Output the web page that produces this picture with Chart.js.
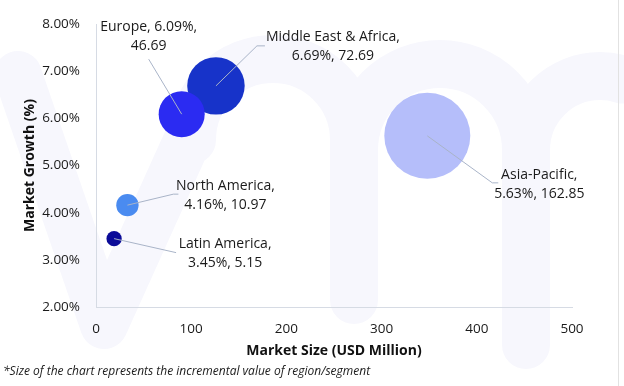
<!DOCTYPE html>
<html lang="en">
<head>
    <meta charset="UTF-8">
    <title>Market Size vs Market Growth</title>
    <script src="https://cdn.jsdelivr.net/npm/chart.js"></script>
    <style>
        body {
            margin: 0;
            background-color: #ffffff;
        }
        #wrap {
            width: 624px;
            height: 386px;
            position: relative;
        }
    </style>
</head>
<body>
    <div id="wrap"><canvas id="bubbleChart"></canvas></div>

    <script>
        // Data
        const regions = ['Middle East & Africa', 'Europe', 'Asia-Pacific', 'North America', 'Latin America'];
        const marketSize = [126, 90, 348, 33, 19];          // USD Million (x)
        const marketGrowth = [6.69, 6.09, 5.63, 4.16, 3.45]; // % (y)
        const incrementalValue = [72.69, 46.69, 162.85, 10.97, 5.15]; // bubble size
        const bubbleColors = ['#1733c9', '#2b2bf2', '#b5befa', '#4a8bf0', '#0b0b98'];

        // How each label is placed relative to its bubble (pixels)
        const labelLayout = [
            { split: 1, dx: 117, dy: -49, lx: 41, ly: -40, hook: 8 },
            { split: 2, dx: -33, dy: -87, lx: -33, ly: -55, hook: 0 },
            { split: 1, dx: 112, dy: 39, lx: 65, ly: 47, hook: 6 },
            { split: 1, dx: 98, dy: -19, lx: 46, ly: -11, hook: 5 },
            { split: 1, dx: 111, dy: 5, lx: 62, ly: 14, hook: 0 }
        ];
        const sizeScale = 3.37;

        const labelFont = '14px "Open Sans", sans-serif';

        // "Name, growth%, value" broken after the first or second comma
        function labelText(i) {
            const parts = [regions[i], marketGrowth[i].toFixed(2) + '%', incrementalValue[i].toFixed(2)];
            const k = labelLayout[i].split;
            return [parts.slice(0, k).join(', ') + ',', parts.slice(k).join(', ')];
        }

        const bubbleLabels = {
            id: 'bubbleLabels',
            beforeDraw(chart) {
                // faint logo watermark behind the plot
                const ctx = chart.ctx;
                ctx.save();
                ctx.strokeStyle = '#f7f7fd';
                ctx.lineWidth = 48;
                ctx.lineJoin = 'round';
                ctx.lineCap = 'round';
                ctx.beginPath();
                ctx.moveTo(18, 75);
                ctx.lineTo(104, 325);
                ctx.lineTo(192, 130);
                ctx.arc(273, 140, 81, Math.PI, 0);
                ctx.lineTo(354, 300);
                ctx.moveTo(354, 150);
                ctx.arc(440, 150, 86, Math.PI, 0);
                ctx.lineTo(526, 345);
                ctx.moveTo(526, 150);
                ctx.arc(600, 150, 74, Math.PI, Math.PI * 1.6);
                ctx.stroke();
                ctx.restore();
            },
            afterDatasetsDraw(chart) {
                const ctx = chart.ctx;
                const meta = chart.getDatasetMeta(0);
                ctx.save();
                meta.data.forEach((pt, i) => {
                    const L = labelLayout[i];
                    // leader line
                    ctx.strokeStyle = '#a9b4c8';
                    ctx.lineWidth = 1;
                    ctx.beginPath();
                    ctx.moveTo(pt.x, pt.y);
                    ctx.lineTo(pt.x + L.lx, pt.y + L.ly);
                    if (L.hook) ctx.lineTo(pt.x + L.lx + L.hook, pt.y + L.ly);
                    ctx.stroke();
                    // text
                    ctx.fillStyle = '#1a1a1a';
                    ctx.font = labelFont;
                    ctx.textAlign = 'center';
                    ctx.textBaseline = 'middle';
                    labelText(i).forEach((t, k) => {
                        ctx.fillText(t, pt.x + L.dx, pt.y + L.dy + k * 19);
                    });
                });
                ctx.restore();
            },
            afterDraw(chart) {
                const ctx = chart.ctx;
                ctx.save();
                ctx.fillStyle = '#1a1a1a';
                ctx.font = 'italic 12px "Open Sans", sans-serif';
                ctx.textAlign = 'left';
                ctx.textBaseline = 'middle';
                ctx.fillText('*Size of the chart represents the incremental value of region/segment', 3, 372);
                // thin frame edge on the right
                ctx.strokeStyle = '#e2e2e2';
                ctx.beginPath();
                ctx.moveTo(618.5, 0);
                ctx.lineTo(618.5, 386);
                ctx.stroke();
                ctx.restore();
            }
        };

        const ctx = document.getElementById('bubbleChart').getContext('2d');
        const chart = new Chart(ctx, {
            type: 'bubble',
            data: {
                datasets: [{
                    label: 'Regions',
                    data: regions.map((r, i) => ({
                        x: marketSize[i],
                        y: marketGrowth[i],
                        r: sizeScale * Math.sqrt(incrementalValue[i])
                    })),
                    backgroundColor: bubbleColors,
                    borderWidth: 0,
                    hoverBorderWidth: 0
                }]
            },
            options: {
                responsive: true,
                maintainAspectRatio: false,
                animation: false,
                layout: {
                    autoPadding: false,
                    padding: { left: 0, right: 52, top: 16, bottom: 23 }
                },
                plugins: {
                    legend: { display: false },
                    tooltip: { enabled: false }
                },
                scales: {
                    x: {
                        type: 'linear',
                        min: 0,
                        max: 500,
                        afterFit: (s) => { s.height = 56; },
                        grid: { display: false, drawTicks: false },
                        border: { color: '#d6dbe4', width: 1 },
                        ticks: {
                            stepSize: 100,
                            padding: 14,
                            color: '#1a1a1a',
                            font: { family: '"Open Sans", sans-serif', size: 13.5 }
                        },
                        title: {
                            display: true,
                            text: 'Market Size (USD Million)',
                            color: '#111111',
                            padding: { top: 0, bottom: 4 },
                            font: { family: '"Open Sans", sans-serif', size: 14, weight: 'bold' }
                        }
                    },
                    y: {
                        min: 2,
                        max: 8,
                        afterFit: (s) => { s.width = 96; },
                        grid: { display: false, drawTicks: false },
                        border: { color: '#d6dbe4', width: 1 },
                        ticks: {
                            stepSize: 1,
                            padding: 16,
                            color: '#1a1a1a',
                            font: { family: '"Open Sans", sans-serif', size: 13.5 },
                            callback: (v) => v.toFixed(2) + '%'
                        },
                        title: {
                            display: true,
                            text: 'Market Growth (%)',
                            color: '#111111',
                            padding: { top: 22, bottom: 0 },
                            font: { family: '"Open Sans", sans-serif', size: 14, weight: 'bold' }
                        }
                    }
                }
            },
            plugins: [bubbleLabels]
        });
    </script>
</body>
</html>
